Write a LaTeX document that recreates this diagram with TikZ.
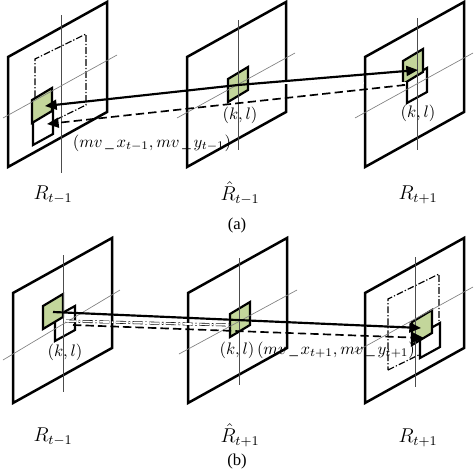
\documentclass[tikz,border=0pt]{standalone}
\usepackage{fontspec}
\setmainfont{Liberation Serif}
\usetikzlibrary{arrows.meta}
\definecolor{verdebloque}{RGB}{195,214,155}
\tikzset{
  marco/.style={draw, line width=1.5pt, line join=miter},
  eje/.style={gray!60!black, line width=0.45pt},
  diag/.style={gray, line width=0.4pt},
  ventana/.style={draw, line width=0.7pt, dash pattern=on 4pt off 1.2pt on 0.8pt off 1.2pt},
  bloque/.style={draw, line width=1.3pt, fill=verdebloque},
  hueco/.style={draw, line width=1.3pt, fill=white},
  flecha/.style={-{Triangle[length=7pt,width=6pt]}, line width=1.3pt},
  flechadash/.style={-{Triangle[length=7pt,width=6pt]}, line width=1pt,
    dash pattern=on 5pt off 2.5pt},
  enlace/.style={double, double distance=1pt, line width=0.35pt,
    dash pattern=on 6pt off 1.5pt on 1pt off 1.5pt},
  etiq/.style={font=\normalsize, inner sep=1pt},
  nombre/.style={font=\large, inner sep=1pt},
  plano/.pic={\path[marco] (0,0) -- (99,-55) -- (99,-165) -- (0,-110) -- cycle;},
  busqueda/.pic={\path[ventana] (0,0) -- (51,-25) -- (51,-96) -- (0,-71) -- cycle;},
  verde/.pic={\path[bloque] (0,0) -- (20,-12) -- (20,-35) -- (0,-23) -- cycle;},
  blanco/.pic={\path[hueco] (0,0) -- (20,-11) -- (20,-35) -- (0,-24) -- cycle;}
}

\begin{document}
\begin{tikzpicture}[x=0.6pt, y=-0.6pt]
\useasboundingbox (0,0) rectangle (474,470);

% (a)
\pic at (8,167) {plano};
\pic at (187,167) {plano};
\pic at (365,167) {plano};
\pic at (35,130) {busqueda};
\pic at (33,145) {blanco};
\pic at (407,103) {blanco};
\pic at (32,123) {verde};
\pic at (228,102) {verde};
\pic at (403,84) {verde};

\draw[eje] (61,15) -- (61,173);
\draw[eje] (238,20) -- (238,150);
\draw[eje] (417,18) -- (417,150);
\draw[diag] (3,118) -- (117,55);
\draw[diag] (177,118) -- (295,53);
\draw[diag] (355,118) -- (473,53);

\coordinate (ca) at (238,85);
\coordinate (pa1) at (45,106);
\coordinate (pa3) at (418,70);
\coordinate (qa3) at (405,85);
\coordinate (qa1) at (47,124);
\coordinate (da2) at (250,83);
\coordinate (da3) at (406,83);

\draw[enlace] (da2) -- (da3);
\draw[flecha] (ca) -- (pa1);
\draw[flecha] (ca) -- (pa3);
\draw[flechadash] (qa3) -- (qa1);

\node[etiq] (mva) at (152,143) {$(mv\,\_\,x_{t-1}, mv\,\_\,y_{t-1})$};
\node[etiq] (kla2) at (240,115) {$(k,l)$};
\node[etiq] (kla3) at (418,113) {$(k,l)$};

\node[nombre] (ra1) at (53,195) {$R_{t-1}$};
\node[nombre] (ra2) at (240,193) {$\hat{R}_{t-1}$};
\node[nombre] (ra3) at (418,195) {$R_{t+1}$};
\node[etiq] (capa) at (237,225) {(a)};

% (b)
\pic at (13,403) {plano};
\pic at (188,403) {plano};
\pic at (365,403) {plano};
\pic at (388,370) {busqueda};
\pic at (55,341) {blanco};
\pic at (420,358) {blanco};
\pic at (43,329) {verde};
\pic at (230,337) {verde};
\pic at (412,345) {verde};

\draw[eje] (63,255) -- (63,392);
\draw[eje] (239,258) -- (239,385);
\draw[eje] (415,257) -- (415,387);
\draw[diag] (3,360) -- (120,290);
\draw[diag] (179,354) -- (297,290);
\draw[diag] (355,352) -- (473,287);

\coordinate (cb1) at (53,312);
\coordinate (pb3) at (421,328);
\coordinate (qb1) at (73,325);
\coordinate (qb3) at (424,338);
\coordinate (db1) at (66,321);
\coordinate (db2) at (229,325);

\draw[enlace] (db1) -- (db2);
\draw[flecha] (cb1) -- (pb3);
\draw[flechadash] (qb1) -- (qb3);

\node[etiq] (klb1) at (65,352) {$(k,l)$};
\node[etiq] (klb2) at (237,350) {$(k,l)$};
\node[etiq, anchor=west] (mvb) at (255,350) {$(mv\,\_\,x_{t+1}, mv\,\_\,y_{t+1})$};

\node[nombre] (rb1) at (53,437) {$R_{t-1}$};
\node[nombre] (rb2) at (240,435) {$\hat{R}_{t+1}$};
\node[nombre] (rb3) at (418,438) {$R_{t+1}$};
\node[etiq] (capb) at (237,461) {(b)};

\end{tikzpicture}
\end{document}
